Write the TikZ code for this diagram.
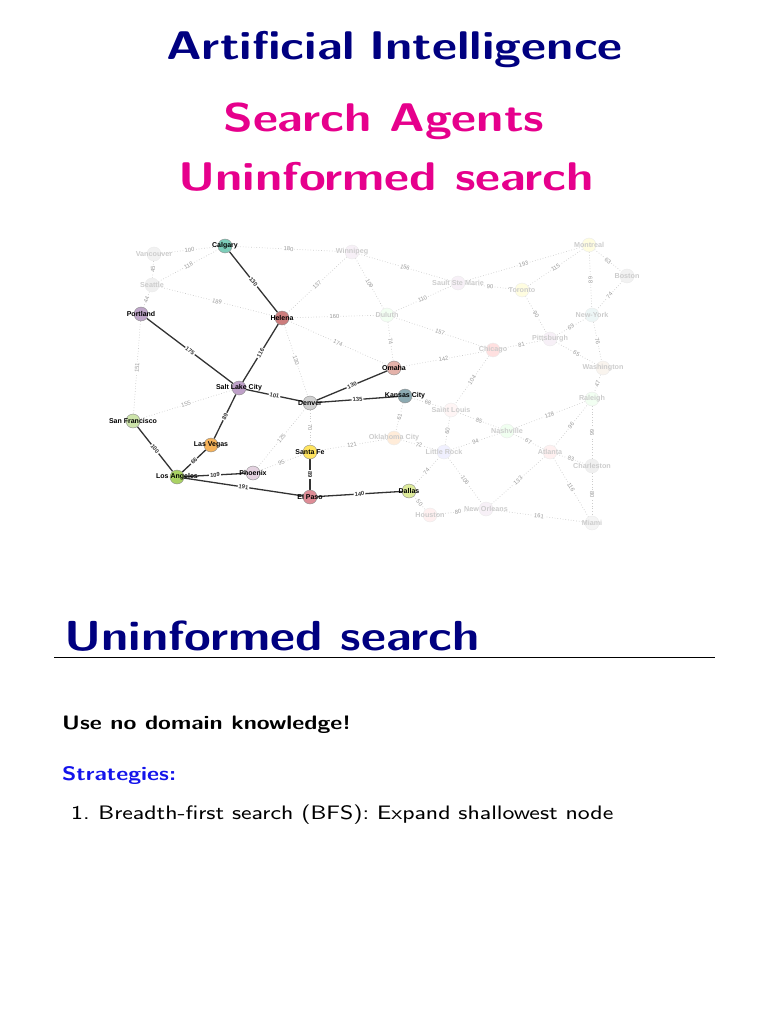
\documentclass[tikz,border=0pt]{standalone}
\usepackage{fontspec}
\newfontfamily\gfont{Liberation Sans}
\newfontfamily\lmbody{lmsans8-regular.otf}[FakeStretch=1.148,BoldFont=lmsans10-bold.otf,BoldFeatures={FakeStretch=1.2}]
\newfontfamily\lmhead{lmsans10-bold.otf}[FakeStretch=1.16]
\newfontfamily\lmtitle{lmsans10-bold.otf}[FakeStretch=1.22]
\usetikzlibrary{backgrounds}
\definecolor{navyt}{RGB}{0,0,128}
\definecolor{pinkt}{RGB}{230,0,140}
\definecolor{bluet}{RGB}{20,20,235}
\tikzset{
 city/.style={circle,minimum size=14pt,inner sep=0pt,draw=black!45,line width=.4pt,fill=#1},
 pale/.style={circle,minimum size=14pt,inner sep=0pt,draw=black!8,line width=.4pt,fill=#1},
 ctext/.style={font=\gfont\bfseries\fontsize{7}{8}\selectfont,text=black,inner sep=0pt},
 ptext/.style={font=\gfont\bfseries\fontsize{7.2}{8}\selectfont,text=black!20,inner sep=0pt},
 hot/.style={draw=black!80,line width=1.3pt},
 cold/.style={draw=black!20,line width=.7pt,dotted},
 hl/.style={font=\gfont\bfseries\fontsize{5.8}{6}\selectfont,text=black!80,fill=white,inner sep=1pt,sloped},
 cl/.style={font=\gfont\fontsize{5.8}{6}\selectfont,text=black!40,fill=white,inner sep=1pt,sloped},
 ttl/.style={font=\lmtitle\fontsize{40}{40}\selectfont,inner sep=0pt,anchor=base west},
 big/.style={font=\lmhead\fontsize{42}{42}\selectfont,inner sep=0pt,anchor=base west},
 body/.style={font=\lmbody\fontsize{19.5}{24}\selectfont,inner sep=0pt,anchor=base west},
}
\begin{document}
\begin{tikzpicture}[x=1pt,y=-1pt]
\useasboundingbox (0,0) rectangle (768,1024);
\node[ttl,text=navyt] (t1) at (166,60) {Artificial\hspace{-.1em} Intelligence};
\node[ttl,text=pinkt] (t2) at (223,132) {Search Agents};
\node[ttl,text=pinkt] (t3) at (178,191) {Uninformed search};
\node[big,text=navyt] (t4) at (64,650) {Uninformed search};
\coordinate (rl) at (54,657.5); \coordinate (rr) at (715,657.5);
\draw[line width=.8pt] (rl) -- (rr);
\node[body] (b1) at (62,729) {\bfseries Use no domain knowledge!};
\node[body,text=bluet] (b2) at (62,780) {\bfseries Strategies:};
\node[body] (b3) at (71,819) {1.\hspace{.45em}Breadth-first search (BFS): Expand shallowest node};
% pale cities
\foreach \n/\x/\y/\c/\t in {
van/154/254/black!5/Vancouver, sea/152/285/black!6/Seattle, win/352/252/violet!6/Winnipeg,
dul/387/315/green!5/Duluth, sau/458/283/violet!6/Sault Ste Marie, tor/522/290/yellow!12/Toronto,
mon/589/245/yellow!12/Montreal, bos/627/276/black!5/Boston, ny/592/315/teal!7/New-York,
pit/550/339/violet!6/Pittsburgh, was/603/368/brown!9/Washington, chi/493/350/red!12/Chicago,
ral/592/399/green!5/Raleigh, stl/451/410/red!4/Saint Louis, nas/507/431/green!6/Nashville,
okl/394/438/orange!15/Oklahoma City, lr/444/452/blue!6/Little Rock, atl/550/452/red!6/Atlanta,
cha/592/466/black!6/Charleston, mia/592/523/black!4/Miami, no/486/509/violet!6/New Orleans, hou/430/515/red!6/Houston}
{\node[pale=\c,label={[ptext]center:\t}] (\n) at (\x,\y) {};}
% active cities
\definecolor{ccal}{RGB}{125,205,185}\definecolor{cpor}{RGB}{190,165,200}\definecolor{chel}{RGB}{205,125,125}
\definecolor{cslc}{RGB}{190,160,200}\definecolor{coma}{RGB}{228,178,170}\definecolor{cden}{RGB}{208,208,208}
\definecolor{ckc}{RGB}{140,170,178}\definecolor{csf}{RGB}{205,228,170}\definecolor{clv}{RGB}{245,178,90}
\definecolor{csfe}{RGB}{255,228,95}\definecolor{cla}{RGB}{170,210,100}\definecolor{cpho}{RGB}{228,210,224}
\definecolor{celp}{RGB}{222,140,150}\definecolor{cdal}{RGB}{222,235,155}
\foreach \n/\x/\y/\c/\t in {
cal/225/246/ccal/Calgary, por/141/314/cpor/Portland, hel/282/318/chel/Helena,
slc/239/388/cslc/Salt Lake City, oma/394/368/coma/Omaha, den/310/403/cden/Denver,
kc/405/396/ckc/Kansas City, sf/133/421/csf/San Francisco, lv/211/445/clv/Las Vegas,
sfe/310/452/csfe/Santa Fe, la/177/477/cla/Los Angeles, pho/253/473/cpho/Phoenix,
elp/310/497/celp/El Paso, dal/409/491/cdal/Dallas}
{\node[city=\c,label={[ctext]center:\t}] (\n) at (\x,\y) {};}
\begin{scope}[on background layer]
\draw[cold] (van) -- node[cl]{100} (cal);
\draw[cold] (van) -- node[cl]{45} (sea);
\draw[cold] (cal) -- node[cl]{118} (sea);
\draw[cold] (cal) -- node[cl]{180} (win);
\draw[cold] (sea) -- node[cl]{44} (por);
\draw[cold] (sea) -- node[cl]{189} (hel);
\draw[cold] (por) -- node[cl]{151} (sf);
\draw[cold] (hel) -- node[cl]{137} (win);
\draw[cold] (hel) -- node[cl]{160} (dul);
\draw[cold] (hel) -- node[cl]{174} (oma);
\draw[cold] (hel) -- node[cl]{130} (den);
\draw[cold] (win) -- node[cl]{109} (dul);
\draw[cold] (win) -- node[cl]{156} (sau);
\draw[cold] (dul) -- node[cl]{110} (sau);
\draw[cold] (sau) -- node[cl]{193} (mon);
\draw[cold] (sau) -- node[cl]{90} (tor);
\draw[cold] (tor) -- node[cl]{115} (mon);
\draw[cold] (tor) -- node[cl]{90} (pit);
\draw[cold] (mon) -- node[cl]{68} (ny);
\draw[cold] (mon) -- node[cl]{63} (bos);
\draw[cold] (bos) -- node[cl]{74} (ny);
\draw[cold] (ny) -- node[cl]{69} (pit);
\draw[cold] (ny) -- node[cl]{76} (was);
\draw[cold] (pit) -- node[cl]{65} (was);
\draw[cold] (pit) -- node[cl]{81} (chi);
\draw[cold] (dul) -- node[cl]{157} (chi);
\draw[cold] (dul) -- node[cl]{74} (oma);
\draw[cold] (oma) -- node[cl]{142} (chi);
\draw[cold] (chi) -- node[cl]{104} (stl);
\draw[cold] (was) -- node[cl]{47} (ral);
\draw[cold] (slc) -- node[cl]{155} (sf);
\draw[cold] (den) -- node[cl]{70} (sfe);
\draw[cold] (den) -- node[cl]{125} (pho);
\draw[cold] (kc) -- node[cl]{61} (okl);
\draw[cold] (kc) -- node[cl]{68} (stl);
\draw[cold] (okl) -- node[cl]{121} (sfe);
\draw[cold] (okl) -- node[cl]{72} (lr);
\draw[cold] (pho) -- node[cl]{95} (sfe);
\draw[cold] (dal) -- node[cl]{74} (lr);
\draw[cold] (dal) -- node[cl]{50} (hou);
\draw[cold] (hou) -- node[cl]{80} (no);
\draw[cold] (lr) -- node[cl]{94} (nas);
\draw[cold] (lr) -- node[cl]{106} (no);
\draw[cold] (lr) -- node[cl]{60} (stl);
\draw[cold] (stl) -- node[cl]{85} (nas);
\draw[cold] (nas) -- node[cl]{128} (ral);
\draw[cold] (nas) -- node[cl]{67} (atl);
\draw[cold] (atl) -- node[cl]{96} (ral);
\draw[cold] (atl) -- node[cl]{83} (cha);
\draw[cold] (atl) -- node[cl]{116} (mia);
\draw[cold] (atl) -- node[cl]{133} (no);
\draw[cold] (ral) -- node[cl]{66} (cha);
\draw[cold] (cha) -- node[cl]{80} (mia);
\draw[cold] (no) -- node[cl]{161} (mia);
\draw[hot] (cal) -- node[hl]{130} (hel);
\draw[hot] (por) -- node[hl]{175} (slc);
\draw[hot] (hel) -- node[hl]{116} (slc);
\draw[hot] (oma) -- node[hl]{130} (den);
\draw[hot] (slc) -- node[hl]{101} (den);
\draw[hot] (slc) -- node[hl]{89} (lv);
\draw[hot] (den) -- node[hl]{135} (kc);
\draw[hot] (sf) -- node[hl]{100} (la);
\draw[hot] (lv) -- node[hl]{66} (la);
\draw[hot] (la) -- node[hl]{109} (pho);
\draw[hot] (la) -- node[hl]{191} (elp);
\draw[hot] (sfe) -- node[hl]{89} (elp);
\draw[hot] (elp) -- node[hl]{140} (dal);
\end{scope}
\end{tikzpicture}
\end{document}
